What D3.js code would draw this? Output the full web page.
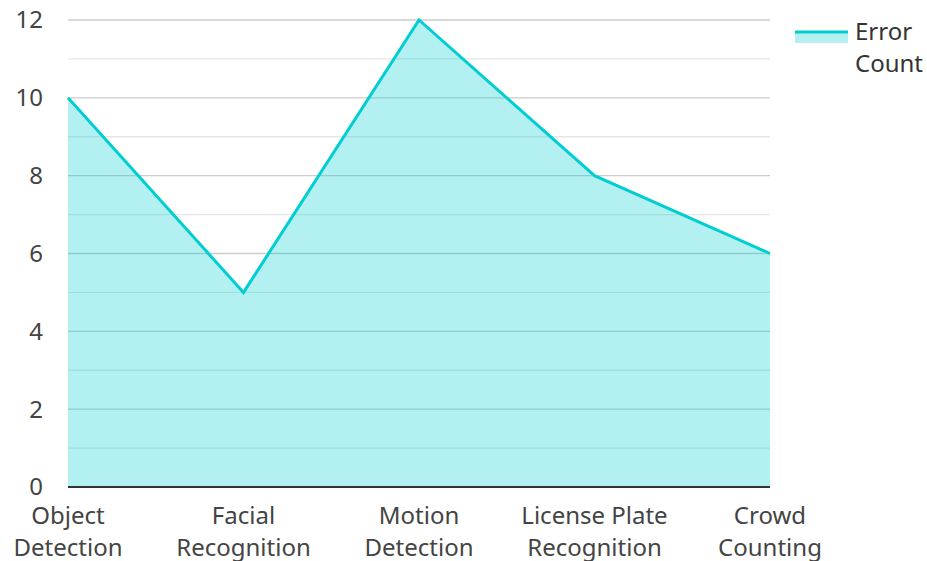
<!DOCTYPE html>
<html><head><meta charset="utf-8">
<script src="https://cdn.jsdelivr.net/npm/d3@7"></script>
<style>body{margin:0;background:#fff}text{font-family:"Noto Sans","Open Sans",sans-serif}</style>
</head><body><svg id="c" width="927" height="561"></svg>
<script>
const categories=["Object Detection","Facial Recognition","Motion Detection","License Plate Recognition","Crowd Counting"];
const catLines=[["Object","Detection"],["Facial","Recognition"],["Motion","Detection"],["License Plate","Recognition"],["Crowd","Counting"]];
const errorCount=[10,5,12,8,6];
const yTicks=[0,2,4,6,8,10,12];
const seriesName=["Error","Count"];

const svg=d3.select("#c");
const L=68,R=770,T=20,B=487;
const x=d3.scalePoint().domain(categories).range([L,R]);
const y=d3.scaleLinear().domain([0,12]).range([B,T]);
const color="#00CED1";

// minor grid
svg.append("g").selectAll("line").data(d3.range(1,12,2)).join("line")
 .attr("x1",L).attr("x2",R).attr("y1",d=>y(d)).attr("y2",d=>y(d))
 .attr("stroke","#e6e6e6").attr("stroke-width",1.3);
svg.append("g").selectAll("line").data(yTicks.filter(d=>d>0)).join("line")
 .attr("x1",L).attr("x2",R).attr("y1",d=>y(d)).attr("y2",d=>y(d))
 .attr("stroke","#cccccc").attr("stroke-width",1.3);

const data=categories.map((c,i)=>({c,v:errorCount[i]}));
svg.append("path").datum(data)
 .attr("d",d3.area().x(d=>x(d.c)).y0(B).y1(d=>y(d.v)))
 .attr("fill",color).attr("fill-opacity",0.3);
svg.append("path").datum(data)
 .attr("d",d3.line().x(d=>x(d.c)).y(d=>y(d.v)))
 .attr("fill","none").attr("stroke",color).attr("stroke-width",3).attr("stroke-linejoin","miter");

svg.append("line").attr("x1",L).attr("x2",R).attr("y1",B).attr("y2",B).attr("stroke","#333").attr("stroke-width",2);

svg.append("g").selectAll("text").data(yTicks).join("text")
 .attr("x",43).attr("y",d=>y(d)).attr("dy","0.35em").attr("text-anchor","end")
 .attr("font-size",24).attr("fill","#444").text(d=>d);

const xl=svg.append("g").selectAll("text").data(categories).join("text")
 .attr("x",d=>x(d)).attr("y",524).attr("text-anchor","middle").attr("font-size",24).attr("fill","#444");
xl.each(function(d,i){
 const t=d3.select(this);
 catLines[i].forEach((s,j)=>t.append("tspan").attr("x",x(d)).attr("dy",j?32:0).text(s));
});

// legend
const lg=svg.append("g");
lg.append("rect").attr("x",795).attr("y",32).attr("width",53).attr("height",11).attr("fill",color).attr("fill-opacity",0.3);
lg.append("line").attr("x1",795).attr("x2",848).attr("y1",32).attr("y2",32).attr("stroke",color).attr("stroke-width",3);
const lt=lg.append("text").attr("x",855).attr("y",40).attr("font-size",24).attr("fill","#333");
seriesName.forEach((s,j)=>lt.append("tspan").attr("x",855).attr("dy",j?32:0).text(s));
</script></body></html>
